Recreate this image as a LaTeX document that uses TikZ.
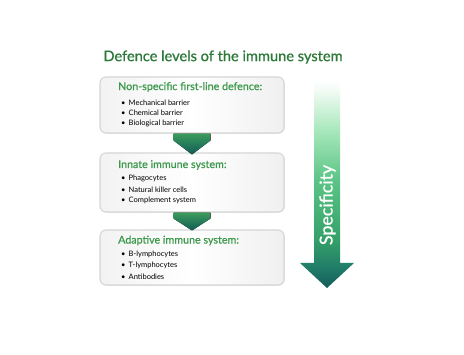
\documentclass[tikz,border=0pt]{standalone}
\usepackage{fontspec}
\setmainfont{Lato}
\newfontfamily\medfont{Lato}[FakeBold=0.9]
\usetikzlibrary{shadows}
\definecolor{titlegreen}{HTML}{2E7A3A}
\definecolor{headgreen}{HTML}{3D9A4C}
\definecolor{boxline}{HTML}{D6D6D6}
\definecolor{arrtop}{HTML}{3A9C5C}
\definecolor{arrbot}{HTML}{145A58}
\definecolor{sA}{HTML}{165C5A}
\definecolor{sB}{HTML}{1F7A68}
\definecolor{sC}{HTML}{34A068}
\definecolor{sD}{HTML}{5CC486}
\definecolor{sE}{HTML}{A8E8BC}
\definecolor{sF}{HTML}{F2FBF4}
\pgfdeclareverticalshading{specshade}{100bp}{color(0bp)=(sA); color(25bp)=(sA); color(29.5bp)=(sB); color(36.5bp)=(sC); color(51bp)=(sD); color(63bp)=(sE); color(72.5bp)=(sF); color(75bp)=(white); color(100bp)=(white)}
\tikzset{
  levelbox/.style={rounded corners=6pt, draw=boxline, line width=1.1pt,
    left color=gray!10, right color=gray!12, middle color=white,
    drop shadow={shadow xshift=0.8pt, shadow yshift=-0.8pt, fill=gray!40, opacity=0.4},
    minimum width=184pt, inner sep=0pt},
  heading/.style={anchor=west, inner sep=0pt, text=headgreen, font=\medfont\fontsize{10.7}{12}\selectfont},
  item/.style={anchor=west, inner sep=0pt, text=black, font=\fontsize{7.5}{9}\selectfont},
  smallarrow/.style={top color=arrtop, bottom color=arrbot, draw=none},
}
\newcommand{\bul}{\textbullet\hspace{3.2pt}}
\begin{document}
\begin{tikzpicture}[x=1pt,y=-1pt]
\useasboundingbox (0,0) rectangle (464,355);
\fill[white] (0,0) rectangle (464,355);

\node[text=titlegreen, font=\medfont\fontsize{14.6}{16}\selectfont, inner sep=0pt] (title) at (223,57) {Defence levels of the immune system};

% big arrow
\shade[shading=specshade] (314,80) -- (340,80) -- (340,263) -- (354,263) -- (327,288) -- (300,263) -- (314,263) -- cycle;
\node[rotate=90, text=white, font=\medfont\fontsize{17.8}{19}\selectfont, inner sep=0pt] (spec) at (327.5,205) {Specificity};

% boxes
\node[levelbox, minimum height=56pt] (b1) at (192,105) {};
\node[levelbox, minimum height=59pt] (b2) at (192,182.5) {};
\node[levelbox, minimum height=55pt] (b3) at (192,257.5) {};

% connecting arrows
\fill[smallarrow] ([xshift=-18.5pt]b1.south) -- ([xshift=18.5pt]b1.south) -- ([xshift=18.5pt,yshift=-7pt]b1.south) -- ([yshift=-2pt]b2.north) -- ([xshift=-18.5pt,yshift=-7pt]b1.south) -- cycle;
\fill[smallarrow] ([xshift=-18.5pt]b2.south) -- ([xshift=18.5pt]b2.south) -- ([xshift=18.5pt,yshift=-6pt]b2.south) -- ([yshift=-1pt]b3.north) -- ([xshift=-18.5pt,yshift=-6pt]b2.south) -- cycle;

% texts box 1
\node[heading] (h1) at (118,87) {Non-specific first-line defence:};
\node[item] (i11) at (121,102.5) {\bul Mechanical barrier};
\node[item] (i12) at (121,113) {\bul Chemical barrier};
\node[item] (i13) at (121,123.5) {\bul Biological barrier};

% texts box 2
\node[heading] (h2) at (118,165) {Innate immune system:};
\node[item] (i21) at (121,178.5) {\bul Phagocytes};
\node[item] (i22) at (121,189.5) {\bul Natural killer cells};
\node[item] (i23) at (121,200.5) {\bul Complement system};

% texts box 3
\node[heading] (h3) at (118,240.5) {Adaptive immune system:};
\node[item] (i31) at (121,254) {\bul B-lymphocytes};
\node[item] (i32) at (121,265.5) {\bul T-lymphocytes};
\node[item] (i33) at (121,277) {\bul Antibodies};
\end{tikzpicture}
\end{document}
